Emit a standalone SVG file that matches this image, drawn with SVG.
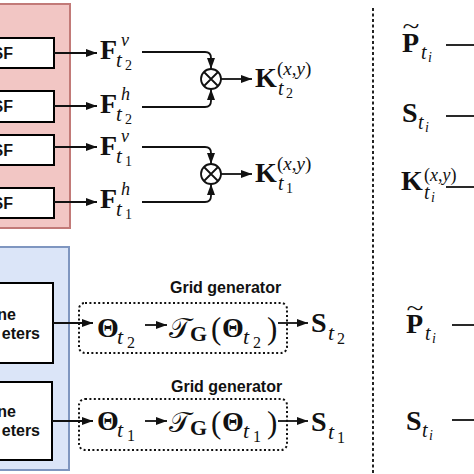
<svg xmlns="http://www.w3.org/2000/svg" width="474" height="474" viewBox="0 0 474 474">
<style>
.panelR{fill:#f2c6c4;stroke:#c27a78;stroke-width:2}
.panelB{fill:#dbe5f8;stroke:#7f96c0;stroke-width:2}
.box{fill:#fff;stroke:#000;stroke-width:2}
.lbl{font-family:"Liberation Sans",Arial,sans-serif;font-weight:bold;font-size:16px;fill:#111}
.mb{font-family:"Liberation Serif","DejaVu Serif",serif;font-weight:bold;fill:#111}
.mr{font-family:"Liberation Serif","DejaVu Serif",serif;fill:#111}
.it{font-family:"Liberation Serif","DejaVu Serif",serif;font-style:italic;fill:#111}
.conn{fill:none;stroke:#111;stroke-width:1.8}
.dot{fill:none;stroke:#111;stroke-width:2;stroke-dasharray:2 2.4}
.vd{fill:none;stroke:#222;stroke-width:2;stroke-dasharray:3 2.5}
.circ{fill:#fff;stroke:#111;stroke-width:1.8}
</style>
<defs>
<marker id="ah" markerUnits="userSpaceOnUse" markerWidth="11" markerHeight="8" refX="11" refY="4" orient="auto">
<path d="M0,0 L11,4 L0,8 z" fill="#111"/>
</marker>
</defs>

<g id="panel-red"><rect class="panelR" x="-5" y="4" width="75" height="224"/></g>
<g id="panel-blue"><rect class="panelB" x="-5" y="247" width="74" height="223"/></g>

<g id="sf1"><rect class="box" x="-5" y="38" width="59" height="30"/><text class="lbl" x="13" y="59" text-anchor="end">SF</text></g>
<g id="sf2"><rect class="box" x="-5" y="91" width="59" height="31"/><text class="lbl" x="13" y="112" text-anchor="end">SF</text></g>
<g id="sf3"><rect class="box" x="-5" y="135" width="59" height="30"/><text class="lbl" x="13" y="156" text-anchor="end">SF</text></g>
<g id="sf4"><rect class="box" x="-5" y="188" width="59" height="30"/><text class="lbl" x="13" y="209" text-anchor="end">SF</text></g>

<g id="ap1"><rect class="box" x="-5" y="283" width="58" height="80"/><text class="lbl" x="16" y="320" text-anchor="end">ne</text><text class="lbl" x="40" y="339" text-anchor="end">eters</text></g>
<g id="ap2"><rect class="box" x="-5" y="382" width="57" height="78"/><text class="lbl" x="16" y="417" text-anchor="end">ne</text><text class="lbl" x="40" y="436" text-anchor="end">eters</text></g>

<g id="F1"><text class="mb" x="100" y="59" style="font-size:28px">F</text><text class="it" x="121" y="46" style="font-size:18px">v</text><text class="it" x="116" y="67" style="font-size:21px">t</text><text class="mr" x="125" y="70" style="font-size:14px">2</text></g>
<g id="F2"><text class="mb" x="100" y="113" style="font-size:28px">F</text><text class="it" x="121" y="100" style="font-size:18px">h</text><text class="it" x="116" y="121" style="font-size:21px">t</text><text class="mr" x="125" y="124" style="font-size:14px">2</text></g>
<g id="F3"><text class="mb" x="100" y="155" style="font-size:28px">F</text><text class="it" x="121" y="142" style="font-size:18px">v</text><text class="it" x="116" y="163" style="font-size:21px">t</text><text class="mr" x="125" y="166" style="font-size:14px">1</text></g>
<g id="F4"><text class="mb" x="100" y="208" style="font-size:28px">F</text><text class="it" x="121" y="195" style="font-size:18px">h</text><text class="it" x="116" y="216" style="font-size:21px">t</text><text class="mr" x="125" y="219" style="font-size:14px">1</text></g>

<g id="mul1"><circle class="circ" cx="211" cy="79" r="10"/><path class="conn" d="M204,72 L218,86 M218,72 L204,86"/></g>
<g id="mul2"><circle class="circ" cx="211" cy="174" r="10"/><path class="conn" d="M204,167 L218,181 M218,167 L204,181"/></g>

<g id="K2"><text class="mb" x="255" y="87" style="font-size:28px">K</text><text class="mr" x="277" y="75" style="font-size:19px">(<tspan class="it">x</tspan>,<tspan class="it">y</tspan>)</text><text class="it" x="278" y="95" style="font-size:20px">t</text><text class="mr" x="286" y="98" style="font-size:14px">2</text></g>
<g id="K1"><text class="mb" x="255" y="182" style="font-size:28px">K</text><text class="mr" x="277" y="170" style="font-size:19px">(<tspan class="it">x</tspan>,<tspan class="it">y</tspan>)</text><text class="it" x="278" y="190" style="font-size:20px">t</text><text class="mr" x="286" y="193" style="font-size:14px">1</text></g>

<g id="grid2"><text class="lbl" x="170" y="293">Grid generator</text><rect class="dot" x="79" y="303" width="208" height="50" rx="6"/></g>
<g id="grid1"><text class="lbl" x="171" y="392">Grid generator</text><rect class="dot" x="79" y="399" width="208" height="51" rx="6"/></g>

<g id="theta2"><text class="mb" x="97" y="337" style="font-size:28px">Θ</text><text class="it" x="117" y="344" style="font-size:22px">t</text><text class="mr" x="127" y="348" style="font-size:16px">2</text></g>
<g id="T2"><text class="it" x="169" y="338" style="font-size:28px;font-family:'DejaVu Serif','DejaVu Sans',serif;font-style:normal">𝒯</text><text class="mb" x="190" y="341" style="font-size:22px">G</text><text class="mr" x="211" y="339" style="font-size:31px">(</text><text class="mb" x="222" y="337" style="font-size:28px">Θ</text><text class="it" x="243" y="344" style="font-size:22px">t</text><text class="mr" x="253" y="348" style="font-size:16px">2</text><text class="mr" x="267" y="339" style="font-size:31px">)</text></g>
<g id="S2"><text class="mb" x="311" y="332" style="font-size:28px">S</text><text class="it" x="328" y="340" style="font-size:22px">t</text><text class="mr" x="337" y="344" style="font-size:16px">2</text></g>

<g id="theta1"><text class="mb" x="97" y="430" style="font-size:28px">Θ</text><text class="it" x="117" y="437" style="font-size:22px">t</text><text class="mr" x="127" y="441" style="font-size:16px">1</text></g>
<g id="T1"><text class="it" x="169" y="432" style="font-size:28px;font-family:'DejaVu Serif','DejaVu Sans',serif;font-style:normal">𝒯</text><text class="mb" x="190" y="435" style="font-size:22px">G</text><text class="mr" x="211" y="433" style="font-size:31px">(</text><text class="mb" x="222" y="431" style="font-size:28px">Θ</text><text class="it" x="243" y="438" style="font-size:22px">t</text><text class="mr" x="253" y="442" style="font-size:16px">1</text><text class="mr" x="267" y="433" style="font-size:31px">)</text></g>
<g id="S1"><text class="mb" x="311" y="431" style="font-size:28px">S</text><text class="it" x="328" y="439" style="font-size:22px">t</text><text class="mr" x="337" y="443" style="font-size:16px">1</text></g>

<g id="divider"><line class="vd" x1="373" y1="8" x2="373" y2="474"/></g>

<g id="rP1"><text class="mb" x="402" y="52" style="font-size:28px">P</text><text class="mr" x="411" y="34" text-anchor="middle" transform="translate(411 0) scale(1.3 1) translate(-411 0)" style="font-size:24px">~</text><text class="it" x="421" y="59" style="font-size:20px">t</text><text class="it" x="428" y="62" style="font-size:14px">i</text></g>
<g id="rS1"><text class="mb" x="402" y="122" style="font-size:28px">S</text><text class="it" x="418" y="129" style="font-size:20px">t</text><text class="it" x="425" y="132" style="font-size:14px">i</text></g>
<g id="rK"><text class="mb" x="401" y="190" style="font-size:28px">K</text><text class="mr" x="424" y="181" style="font-size:18px">(<tspan class="it">x</tspan>,<tspan class="it">y</tspan>)</text><text class="it" x="424" y="199" style="font-size:20px">t</text><text class="it" x="431" y="202" style="font-size:14px">i</text></g>
<g id="rP2"><text class="mb" x="406" y="333" style="font-size:28px">P</text><text class="mr" x="415" y="316" text-anchor="middle" transform="translate(415 0) scale(1.3 1) translate(-415 0)" style="font-size:24px">~</text><text class="it" x="425" y="340" style="font-size:20px">t</text><text class="it" x="432" y="343" style="font-size:14px">i</text></g>
<g id="rS2"><text class="mb" x="406" y="430" style="font-size:28px">S</text><text class="it" x="422" y="437" style="font-size:20px">t</text><text class="it" x="429" y="440" style="font-size:14px">i</text></g>

<g id="connectors">
<line class="conn" x1="54" y1="53" x2="97" y2="53" marker-end="url(#ah)"/>
<line class="conn" x1="54" y1="106" x2="97" y2="106" marker-end="url(#ah)"/>
<line class="conn" x1="54" y1="147" x2="97" y2="147" marker-end="url(#ah)"/>
<line class="conn" x1="54" y1="202" x2="97" y2="202" marker-end="url(#ah)"/>
<path class="conn" d="M142,52 H205 Q211,52 211,58 V69" marker-end="url(#ah)"/>
<path class="conn" d="M142,107 H205 Q211,107 211,101 V89" marker-end="url(#ah)"/>
<path class="conn" d="M142,147 H205 Q211,147 211,153 V164" marker-end="url(#ah)"/>
<path class="conn" d="M142,202 H205 Q211,202 211,196 V184" marker-end="url(#ah)"/>
<line class="conn" x1="221" y1="79" x2="252" y2="79" marker-end="url(#ah)"/>
<line class="conn" x1="221" y1="174" x2="252" y2="174" marker-end="url(#ah)"/>
<line class="conn" x1="53" y1="323" x2="93" y2="323" marker-end="url(#ah)"/>
<line class="conn" x1="52" y1="421" x2="93" y2="421" marker-end="url(#ah)"/>
<line class="conn" x1="145" y1="325" x2="167" y2="325" marker-end="url(#ah)"/>
<line class="conn" x1="145" y1="421" x2="167" y2="421" marker-end="url(#ah)"/>
<line class="conn" x1="278" y1="323" x2="308" y2="323" marker-end="url(#ah)"/>
<line class="conn" x1="278" y1="421" x2="308" y2="421" marker-end="url(#ah)"/>
<line class="conn" x1="446" y1="45" x2="474" y2="45"/>
<line class="conn" x1="446" y1="116" x2="474" y2="116"/>
<line class="conn" x1="446" y1="187" x2="474" y2="187"/>
<line class="conn" x1="452" y1="325" x2="474" y2="325"/>
<line class="conn" x1="452" y1="420" x2="474" y2="420"/>
</g>
</svg>
